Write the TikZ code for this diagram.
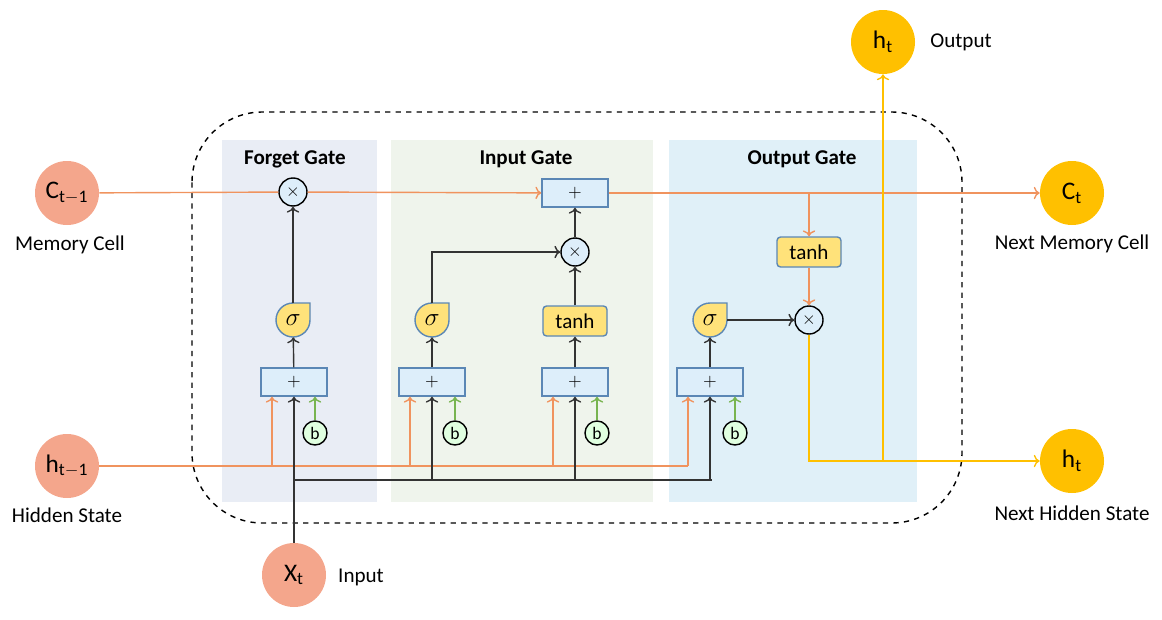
\documentclass[tikz,border=0pt]{standalone}
\usepackage{fontspec}
\setmainfont{Carlito}
\usetikzlibrary{arrows.meta}
\definecolor{salmon}{HTML}{F4A68C}
\definecolor{gold}{HTML}{FFC000}
\definecolor{lineor}{HTML}{F0935E}
\definecolor{linegr}{HTML}{78B450}
\definecolor{boxbl}{HTML}{DDEEFA}
\definecolor{boxed}{HTML}{5B87B5}
\definecolor{sigy}{HTML}{FFE27A}
\definecolor{panelf}{HTML}{E9EDF5}
\definecolor{paneli}{HTML}{EFF4EC}
\definecolor{panelo}{HTML}{E0F0F8}
\tikzset{
  inout/.style={circle, minimum size=64*0.02cm, inner sep=0pt, font=\Large},
  plusbox/.style={draw=boxed, fill=boxbl, thick, minimum width=66*0.02cm, minimum height=28*0.02cm, inner sep=0pt},
  tanhbox/.style={draw=boxed, fill=sigy, thick, rounded corners=2pt, minimum width=64*0.02cm, minimum height=30*0.02cm, inner sep=0pt},
  mult/.style={circle, draw, thick, fill=boxbl, minimum size=28*0.02cm, inner sep=0pt},
  bias/.style={circle, draw, thick, fill=green!12, minimum size=24*0.02cm, inner sep=0pt},
  lab/.style={font=\large},
  orr/.style={draw=lineor, thick, ->},
  blk/.style={draw=black!80, thick, ->},
  grn/.style={draw=linegr, thick, ->},
  gld/.style={draw=gold, thick, ->},
}
% sigma gate: circle with a square top-right corner
\newcommand{\sgate}[3]{%
  \path[draw=boxed, fill=sigy, thick] (#2,#3) ++(0,-17) arc[start angle=270, end angle=0, radius=17] -- ++(0,-17) -- cycle;
  \node[circle, minimum size=34*0.02cm, inner sep=0pt] (#1) at (#2,#3) {\Large$\sigma$};}
\begin{document}
\begin{tikzpicture}[x=0.02cm, y=-0.02cm, >=To]
\useasboundingbox (0,0) rectangle (1162,619);
% panels
\draw[dashed, thick, rounded corners=40] (192,112) rectangle (962,523);
\fill[panelf] (222,140) rectangle (377,502);
\fill[paneli] (391,140) rectangle (653,502);
\fill[panelo] (669,140) rectangle (917,502);
\node[font=\large\bfseries] at (295,159) {Forget Gate};
\node[font=\large\bfseries] at (526,159) {Input Gate};
\node[font=\large\bfseries] at (802,159) {Output Gate};

% inputs and outputs
\node[inout, fill=salmon] (cprev) at (67,193) {$\mathrm{C_{t-1}}$};
\node[lab] at (70,245) {Memory Cell};
\node[inout, fill=salmon] (hprev) at (67,466) {$\mathrm{h_{t-1}}$};
\node[lab] at (67,515) {Hidden State};
\node[inout, fill=salmon] (xt) at (294,575) {$\mathrm{X_t}$};
\node[lab] at (361,577) {Input};
\node[inout, fill=gold] (hout) at (883,42) {$\mathrm{h_t}$};
\node[lab] at (961,42) {Output};
\node[inout, fill=gold] (cnext) at (1072,193) {$\mathrm{C_t}$};
\node[lab] at (1072,244) {Next Memory Cell};
\node[inout, fill=gold] (hnext) at (1072,461) {$\mathrm{h_t}$};
\node[lab] at (1072,513) {Next Hidden State};

% forget gate
\node[mult] (fx) at (293,192) {$\times$};
\sgate{fs}{293}{320}
\node[plusbox] (fp) at (294,382) {$+$};
\node[bias] (fb) at (315,433) {b};
% input gate
\node[plusbox] (cp) at (575,193) {$+$};
\node[mult] (ix) at (575,252) {$\times$};
\sgate{is}{432}{320}
\node[tanhbox] (it) at (575,321) {\large tanh};
\node[plusbox] (ip1) at (432,382) {$+$};
\node[plusbox] (ip2) at (575,382) {$+$};
\node[bias] (ib1) at (455,433) {b};
\node[bias] (ib2) at (597,433) {b};
% output gate
\node[tanhbox] (ot) at (809,252) {\large tanh};
\node[mult] (ox) at (809,320) {$\times$};
\sgate{os}{710}{320}
\node[plusbox] (op) at (710,382) {$+$};
\node[bias] (ob) at (735,433) {b};

% memory line
\draw[orr, -] (cprev) -- (fx);
\draw[orr] (fx) -- (cp);
\draw[orr] (cp) -- (cnext);
\draw[orr] (cp.east -| ot) -- (ot);
\draw[orr] (ot) -- (ox);

% hidden state feed
\draw[orr, -] (hprev) -- (688,466);
\foreach \b in {fp,ip1,ip2,op}
  \draw[orr] ([xshift=-22*0.02cm]\b.south |- 0,466) -- ([xshift=-22*0.02cm]\b.south);
% input feed
\draw[blk] (xt) -- (fp);
\draw[thick, black!80] (294,480) -- (712,480);
\foreach \b in {ip1,ip2,op}
  \draw[blk] (\b.south |- 0,480) -- (\b.south);
% biases
\foreach \b/\p in {fb/fp,ib1/ip1,ib2/ip2,ob/op}
  \draw[grn] (\b) -- (\b |- \p.south);

% gate internals
\draw[blk] (fp) -- (fs);
\draw[blk] (fs) -- (fx);
\draw[blk] (ip1) -- (is);
\draw[blk] (is) |- (ix);
\draw[blk] (ip2) -- (it);
\draw[blk] (it) -- (ix);
\draw[blk] (ix) -- (cp);
\draw[blk] (op) -- (os);
\draw[blk] (os) -- (ox);

% output
\draw[gld] (ox) |- (hnext);
\draw[gld] (883,461) -- (hout);
\end{tikzpicture}
\end{document}
